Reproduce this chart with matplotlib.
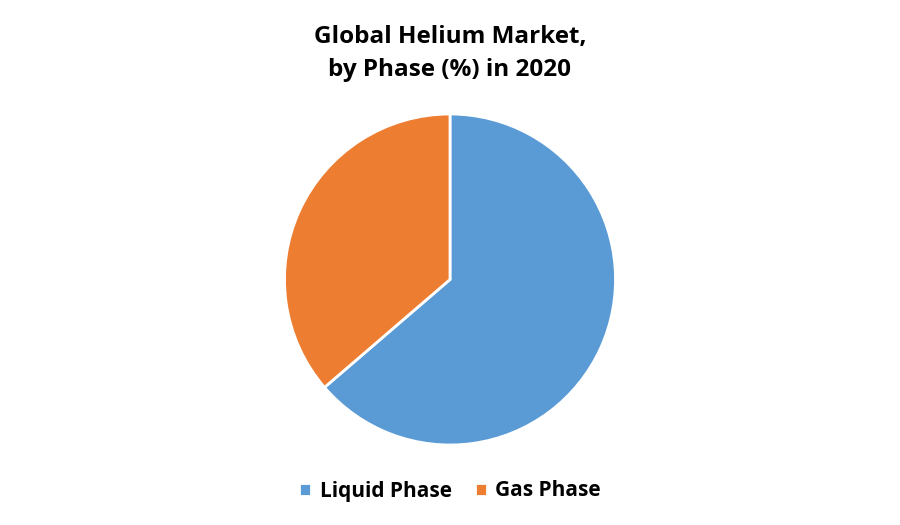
import matplotlib.pyplot as plt

phases = ['Liquid Phase', 'Gas Phase']
shares = [63.7, 36.3]
colors = ['#5B9BD5', '#ED7D31']

plt.rcParams['font.family'] = ['Open Sans', 'DejaVu Sans']

fig = plt.figure(figsize=(9, 5.25), dpi=100)
ax = fig.add_axes([284.5 / 900, 80 / 525, 331 / 900, 331 / 525])

wedges, _ = ax.pie(shares, colors=colors, startangle=90, counterclock=False,
                   wedgeprops={'edgecolor': 'white', 'linewidth': 2})
ax.set_xlim(-1, 1)
ax.set_ylim(-1, 1)
ax.set_aspect('equal')

# titre sur deux lignes
fig.text(0.5, 1 - 54 / 525, 'Global Helium Market,\nby Phase (%) in 2020',
         ha='center', va='center', fontsize=17.5, fontweight='bold', linespacing=1.5)

fig.legend(wedges, phases, loc='center', bbox_to_anchor=(0.5, 1 - 491 / 525),
           ncol=2, frameon=False, prop={'weight': 'bold', 'size': 15},
           handlelength=0.6, handleheight=0.6, handletextpad=0.4, columnspacing=1.1)

fig.savefig('out.png', dpi=100, facecolor='white')
